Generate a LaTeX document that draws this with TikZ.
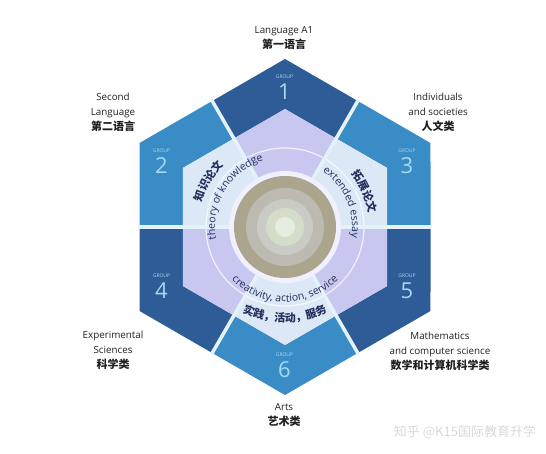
\documentclass[tikz,border=0pt]{standalone}
\usepackage{fontspec}
\setmainfont{Open Sans}
\newfontfamily\cjk{Noto Sans CJK SC}
\usetikzlibrary{positioning, decorations.text}

\definecolor{grpdark}{RGB}{45,92,150}
\definecolor{grpmid}{RGB}{58,140,198}
\definecolor{divline}{RGB}{228,242,250}
\definecolor{lavender}{RGB}{200,199,240}
\definecolor{paleblue}{RGB}{221,232,246}
\definecolor{tagcyan}{RGB}{165,218,242}
\definecolor{inktext}{RGB}{36,46,92}
\definecolor{coreA}{RGB}{172,165,141}
\definecolor{coreB}{RGB}{189,186,177}
\definecolor{coreC}{RGB}{202,203,197}
\definecolor{coreD}{RGB}{211,221,202}
\definecolor{coreE}{RGB}{229,237,224}

\newcommand{\arcfont}{\fontsize{10.5}{12}\selectfont}
\newcommand{\arccjk}{\cjk\bfseries\fontsize{11}{12}\selectfont}
\newcommand{\labcjk}{\cjk\bfseries\fontsize{11}{15}\selectfont}

\begin{document}
\begin{tikzpicture}[
    x=1pt, y=1pt,
    grouptag/.style={inner sep=0pt, text=tagcyan, font=\fontsize{5}{6}\selectfont},
    groupnum/.style={inner sep=0pt, text=tagcyan, font=\fontsize{22}{24}\selectfont},
    subject/.style={align=center, inner sep=0pt, text=black!88, font=\fontsize{9.8}{15}\selectfont},
    divider/.style={draw=divline, line width=3.5pt},
    arctext/.style={decorate, decoration={text along path, text align=center, text color=inktext}}
]
\useasboundingbox (0,0) rectangle (546,454);
\coordinate (C) at (285,227);

\begin{scope}[shift={(C)}]
% Outer ring: six groups
\foreach \a/\c in {90/grpdark, 30/grpmid, 330/grpdark, 270/grpmid, 210/grpdark, 150/grpmid}
  \fill[\c] (\a-30:145.5) -- (\a:168) -- (\a+30:145.5) -- (\a+30:102.2) -- (\a:118) -- (\a-30:102.2) -- cycle;

% Inner hexagon
\foreach \a/\c in {90/lavender, 30/paleblue, 330/lavender, 270/paleblue, 210/lavender, 150/paleblue}
  \fill[\c] (0,0) -- (\a-30:102.2) -- (\a:118) -- (\a+30:102.2) -- cycle;
\draw[white, opacity=0.75, line width=1.2pt] (0,0) circle[radius=79];
\foreach \a in {0,60,...,300}
  \draw[divider] (\a:56) -- (\a:147);

% Core
\fill[white!94!blue] (0,0) circle[radius=56];
\fill[coreA] (0,0) circle[radius=51];
\fill[coreB] (0,0) circle[radius=39];
\fill[coreC] (0,0) circle[radius=28];
\fill[coreD] (0,0) circle[radius=19];
\fill[coreE] (0,0) circle[radius=10];

% Core texts
\path[arctext, decoration={text={|\arcfont|theory of knowledge}}] (198:70) arc[start angle=198, end angle=100, radius=70];
\path[arctext, decoration={text={|\arccjk|知识论文}}] (168:87) arc[start angle=168, end angle=130, radius=87];
\path[arctext, decoration={text={|\arcfont|extended essay}}] (62:67) arc[start angle=62, end angle=-15, radius=67];
\path[arctext, decoration={text={|\arccjk|拓展论文}}] (43:85) arc[start angle=43, end angle=5, radius=85];
\path[arctext, decoration={text={|\arcfont|creativity, action, service}}] (-142:75) arc[start angle=-142, end angle=-38, radius=75];
\path[arctext, decoration={text={|\arccjk|实践，活动，服务}}] (-122:95) arc[start angle=-122, end angle=-58, radius=95];
\end{scope}

% Group tags
\foreach \n/\x/\y in {1/284.5/377, 2/161.5/303, 3/407/303, 4/161.5/178, 5/407/178, 6/284.5/99}{
  \node[grouptag] (tag\n) at (\x,\y) {GROUP};
  \node[groupnum, below=4.5pt of tag\n] (num\n) {\n};
}

% Subject labels
\node[subject] (lang) at (284,416) {Language A1\\{\labcjk 第一语言}};
\node[subject] (second) at (113,342) {Second\\Language\\{\labcjk 第二语言}};
\node[subject] (indiv) at (438,342) {Individuals\\and societies\\{\labcjk 人文类}};
\node[subject] (exper) at (113,104) {Experimental\\Sciences\\{\labcjk 科学类}};
\node[subject] (maths) at (440,103) {Mathematics\\and computer science\\{\labcjk 数学和计算机科学类}};
\node[subject] (arts) at (284,39) {Arts\\{\labcjk 艺术类}};

\node[text=black!15, font=\cjk\fontsize{13}{15}\selectfont] (mark) at (465,22) {知乎 @K15国际教育升学};
\end{tikzpicture}
\end{document}
